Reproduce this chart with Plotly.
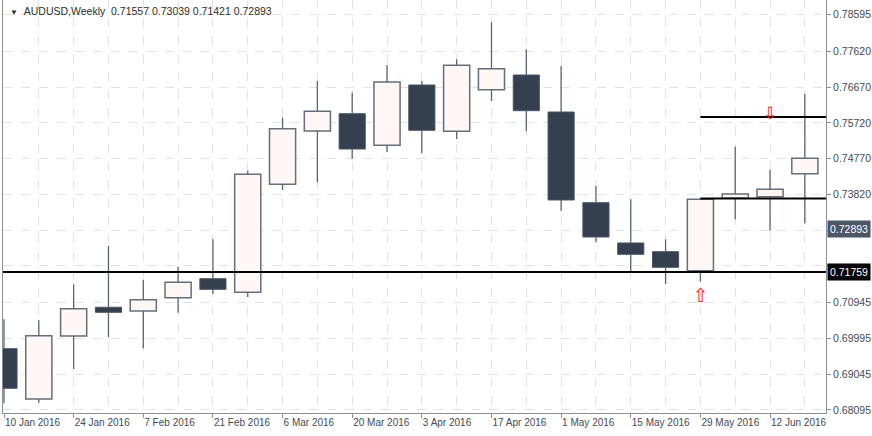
import plotly.graph_objects as go
import pandas as pd

# ---- data (weekly AUDUSD candles) ----
dates = ["2016-01-10", "2016-01-17", "2016-01-24", "2016-01-31", "2016-02-07", "2016-02-14",
         "2016-02-21", "2016-02-28", "2016-03-06", "2016-03-13", "2016-03-20", "2016-03-27",
         "2016-04-03", "2016-04-10", "2016-04-17", "2016-04-24", "2016-05-01", "2016-05-08",
         "2016-05-15", "2016-05-22", "2016-05-29", "2016-06-05", "2016-06-12", "2016-06-19"]
opens = [0.69723, 0.68387, 0.70060, 0.70823, 0.70724, 0.71078, 0.71582, 0.71221, 0.74090, 0.75505,
         0.75965, 0.75125, 0.76727, 0.75497, 0.76602, 0.76993, 0.76010, 0.73601, 0.72531, 0.72300,
         0.71795, 0.73718, 0.73760, 0.74371]
highs = [0.70504, 0.70477, 0.71434, 0.72451, 0.71556, 0.71901, 0.72629, 0.74451, 0.75859, 0.76833,
         0.76523, 0.77258, 0.76833, 0.77410, 0.78392, 0.77675, 0.77232, 0.74045, 0.73691, 0.72629,
         0.73700, 0.75088, 0.74470, 0.76488]
lows = [0.68273, 0.68289, 0.69184, 0.70026, 0.69734, 0.70679, 0.71184, 0.71096, 0.73938, 0.74143,
        0.74770, 0.74948, 0.74913, 0.75293, 0.76302, 0.75505, 0.73381, 0.72549, 0.71787, 0.71442,
        0.71503, 0.73160, 0.72857, 0.73054]
closes = [0.68671, 0.70068, 0.70786, 0.70690, 0.71025, 0.71487, 0.71301, 0.74355, 0.75566, 0.76029,
          0.75027, 0.76807, 0.75524, 0.77250, 0.77160, 0.76045, 0.73673, 0.72690, 0.72230, 0.71885,
          0.73691, 0.73832, 0.73957, 0.74780]

# horizontal levels (price, start date)
level_prices = [0.71759, 0.73713, 0.75877]
level_starts = ["2016-01-09 19:10", "2016-05-29", "2016-05-29"]

# signal arrows
up_dates = ["2016-05-29"]
up_prices = [0.71096]
down_dates = ["2016-06-12"]
down_prices = [0.75930]

# axis ticks (labels hidden under the price boxes are left blank)
y_ticks = [0.78595, 0.77620, 0.76670, 0.75720, 0.74770, 0.73820, 0.72870, 0.71920,
           0.70945, 0.69995, 0.69045, 0.68095]
y_hidden = [0.72870, 0.71920]
bid_price = 0.72893
title_text = "AUDUSD,Weekly  0.71557 0.73039 0.71421 0.72893"

x_range = ["2016-01-09 19:10", "2016-06-23 06:00"]
y_range = [0.68015, 0.78985]

# ---- build ----
BULL_FILL = "#fff6f6"
BULL_LINE = "#666e7b"
BEAR_FILL = "#343f4f"
BEAR_LINE = "#4a5463"
WICK = "#5a6371"

dt = pd.to_datetime(dates)
week_ms = 7 * 24 * 3600 * 1000
bw = 0.75 * week_ms

bull = [i for i in range(len(dates)) if closes[i] >= opens[i]]
bear = [i for i in range(len(dates)) if closes[i] < opens[i]]

wx, wy = [], []
for i in range(len(dates)):
    top = max(opens[i], closes[i])
    bot = min(opens[i], closes[i])
    if highs[i] > top:
        wx += [dt[i], dt[i], None]
        wy += [top, highs[i], None]
    if lows[i] < bot:
        wx += [dt[i], dt[i], None]
        wy += [lows[i], bot, None]

fig = go.Figure()
fig.add_trace(go.Bar(
    x=[dt[i] for i in bull], y=[closes[i] - opens[i] for i in bull],
    base=[opens[i] for i in bull], width=[bw] * len(bull),
    marker=dict(color=BULL_FILL, line=dict(color=BULL_LINE, width=1.5)),
    hoverinfo="skip"))
fig.add_trace(go.Bar(
    x=[dt[i] for i in bear], y=[opens[i] - closes[i] for i in bear],
    base=[closes[i] for i in bear], width=[bw] * len(bear),
    marker=dict(color=BEAR_FILL, line=dict(color=BEAR_LINE, width=1)),
    hoverinfo="skip"))
fig.add_trace(go.Scatter(x=wx, y=wy, mode="lines", line=dict(color=WICK, width=1.3),
                         hoverinfo="skip"))

for p, s in zip(level_prices, level_starts):
    fig.add_trace(go.Scatter(x=[s, x_range[1]], y=[p, p], mode="lines",
                             line=dict(color="#000000", width=2), hoverinfo="skip"))

fig.add_trace(go.Scatter(x=up_dates, y=up_prices, mode="text", text=["⇧"],
                         textfont=dict(color="#ff2020", size=19, family="DejaVu Sans"),
                         hoverinfo="skip"))
fig.add_trace(go.Scatter(x=down_dates, y=down_prices, mode="text", text=["⇩"],
                         textfont=dict(color="#ff1a1a", size=17, family="DejaVu Sans"),
                         hoverinfo="skip"))

FONT = "Liberation Sans"
fig.update_layout(
    width=872, height=436,
    margin=dict(l=3, r=46, t=0, b=23),
    paper_bgcolor="white", plot_bgcolor="white",
    showlegend=False, barmode="overlay",
    font=dict(family=FONT, size=10, color="#444a55"),
    xaxis=dict(
        type="date", range=x_range,
        tick0="2016-01-10", dtick=14 * 24 * 3600 * 1000,
        tickformat="%-d %b %Y", ticklabelposition="outside right",
        ticks="outside", ticklen=4, tickcolor="#8a8f98",
        showline=True, linecolor="#8a8f98", linewidth=1,
        showgrid=True, gridcolor="#e2e2e2", griddash="dash", gridwidth=1,
        minor=dict(tick0="2016-01-10", dtick=week_ms, showgrid=True,
                   gridcolor="#e2e2e2", griddash="dash", ticks=""),
        zeroline=False, fixedrange=True,
        tickfont=dict(family=FONT, size=10, color="#444a55"),
    ),
    yaxis=dict(
        side="right", range=y_range,
        tickvals=y_ticks,
        ticktext=["" if v in y_hidden else f"{v:.5f}" for v in y_ticks],
        ticks="outside", ticklen=4, tickcolor="#8a8f98",
        showline=True, linecolor="#8a8f98", linewidth=1, mirror=True,
        showgrid=True, gridcolor="#e2e2e2", griddash="dash", gridwidth=1,
        zeroline=False, fixedrange=True,
        tickfont=dict(family=FONT, size=10.5, color="#444a55"),
    ),
)

fig.add_annotation(xref="paper", yref="paper", x=0, y=1, xanchor="left", yanchor="top",
                   xshift=5, yshift=-3, showarrow=False, align="left",
                   text="<span style='font-size:8px'>▼</span>&nbsp;&nbsp;" + title_text,
                   font=dict(family=FONT, size=10.5, color="#2c2c2c"))

fig.add_annotation(xref="paper", yref="y", x=1, y=bid_price, xanchor="left", yanchor="middle",
                   xshift=1, showarrow=False, text=f"{bid_price:.5f}",
                   bgcolor="#4b5666", borderpad=2,
                   font=dict(family=FONT, size=10.5, color="white"))
fig.add_annotation(xref="paper", yref="y", x=1, y=level_prices[0], xanchor="left", yanchor="middle",
                   xshift=1, showarrow=False, text=f"{level_prices[0]:.5f}",
                   bgcolor="#000000", borderpad=2,
                   font=dict(family=FONT, size=10.5, color="white"))

fig.write_html("out.html")
